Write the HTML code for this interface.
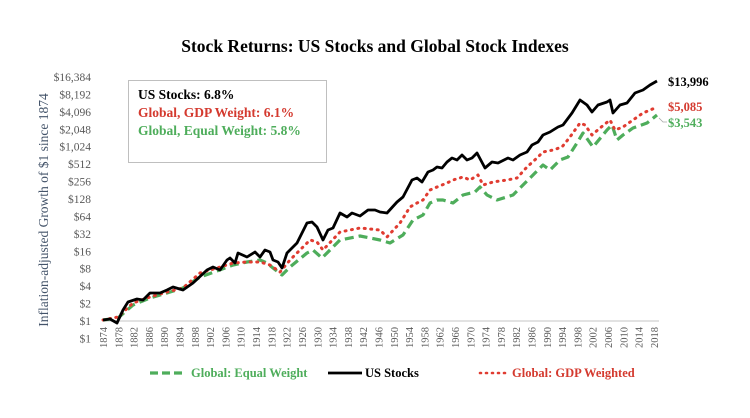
<!DOCTYPE html>
<html><head><meta charset="utf-8"><style>
body{margin:0;background:#fff}
svg{display:block}
.s{font-family:"Liberation Serif",serif}
.yl{font-size:11.5px;fill:#595959;text-anchor:end}
.xl{font-size:10.5px;fill:#595959;text-anchor:end}
</style></head><body>
<svg width="750" height="418" viewBox="0 0 750 418" xmlns="http://www.w3.org/2000/svg" class="s">
<text x="375" y="52" text-anchor="middle" font-size="17.5" font-weight="bold" fill="#000">Stock Returns: US Stocks and Global Stock Indexes</text>
<g class="yl">
<text x="91" y="81">$16,384</text><text x="91" y="98.4">$8,192</text><text x="91" y="115.9">$4,096</text><text x="91" y="133.3">$2,048</text><text x="91" y="150.7">$1,024</text><text x="91" y="168.2">$512</text><text x="91" y="185.6">$256</text><text x="91" y="203">$128</text><text x="91" y="220.4">$64</text><text x="91" y="237.9">$32</text><text x="91" y="255.3">$16</text><text x="91" y="272.7">$8</text><text x="91" y="290.2">$4</text><text x="91" y="307.6">$2</text><text x="91" y="325">$1</text><text x="91" y="342.4">$1</text>
</g>
<text transform="translate(48 210) rotate(-90)" text-anchor="middle" font-size="13.5" fill="#44546a">Inflation-adjusted Growth of $1 since 1874</text>
<line x1="103" y1="321" x2="659" y2="321" stroke="#d9d9d9" stroke-width="1.5"/>
<g class="xl">
<text transform="translate(107 327) rotate(-90)">1874</text><text transform="translate(122.3 327) rotate(-90)">1878</text><text transform="translate(137.6 327) rotate(-90)">1882</text><text transform="translate(152.9 327) rotate(-90)">1886</text><text transform="translate(168.2 327) rotate(-90)">1890</text><text transform="translate(183.5 327) rotate(-90)">1894</text><text transform="translate(198.8 327) rotate(-90)">1898</text><text transform="translate(214.1 327) rotate(-90)">1902</text><text transform="translate(229.4 327) rotate(-90)">1906</text><text transform="translate(244.7 327) rotate(-90)">1910</text><text transform="translate(260 327) rotate(-90)">1914</text><text transform="translate(275.3 327) rotate(-90)">1918</text><text transform="translate(290.6 327) rotate(-90)">1922</text><text transform="translate(306 327) rotate(-90)">1926</text><text transform="translate(321.3 327) rotate(-90)">1930</text><text transform="translate(336.6 327) rotate(-90)">1934</text><text transform="translate(351.9 327) rotate(-90)">1938</text><text transform="translate(367.2 327) rotate(-90)">1942</text><text transform="translate(382.5 327) rotate(-90)">1946</text><text transform="translate(397.8 327) rotate(-90)">1950</text><text transform="translate(413.1 327) rotate(-90)">1954</text><text transform="translate(428.4 327) rotate(-90)">1958</text><text transform="translate(443.7 327) rotate(-90)">1962</text><text transform="translate(459 327) rotate(-90)">1966</text><text transform="translate(474.3 327) rotate(-90)">1970</text><text transform="translate(489.6 327) rotate(-90)">1974</text><text transform="translate(504.9 327) rotate(-90)">1978</text><text transform="translate(520.2 327) rotate(-90)">1982</text><text transform="translate(535.5 327) rotate(-90)">1986</text><text transform="translate(550.8 327) rotate(-90)">1990</text><text transform="translate(566.1 327) rotate(-90)">1994</text><text transform="translate(581.4 327) rotate(-90)">1998</text><text transform="translate(596.7 327) rotate(-90)">2002</text><text transform="translate(612 327) rotate(-90)">2006</text><text transform="translate(627.3 327) rotate(-90)">2010</text><text transform="translate(642.6 327) rotate(-90)">2014</text><text transform="translate(657.9 327) rotate(-90)">2018</text>
</g>
<polyline fill="none" stroke="#4ead5b" stroke-width="3.2" stroke-dasharray="9 5" stroke-linejoin="round" points="103,320 118,318 133,305 150,298 167,293 183,288 200,277 217,271 233,265 247,262 260,260 267,263 273,268 282,275 290,267 307,253 313,250 322,258 340,240 360,236 380,240 390,243 403,235 413,220 423,215 430,203 437,200 443,200 453,203 463,195 475,192 480,187 487,195 497,200 513,195 523,185 535,173 543,165 550,170 560,160 568,157 577,143 583,133 593,147 607,130 612,125 617,140 623,135 633,128 647,123 657,115"/>
<polyline fill="none" stroke="#e03c31" stroke-width="3" stroke-dasharray="1 5.5" stroke-linecap="round" stroke-linejoin="round" points="103,320 118,317 133,303 150,297 167,292 183,288 200,273 217,268 233,263 247,262 260,262 270,265 280,272 290,260 310,240 317,242 323,250 340,232 360,228 380,230 387,237 400,223 410,207 417,203 423,200 430,190 437,187 447,183 453,180 463,177 470,180 478,175 483,185 493,182 507,180 517,178 527,167 537,158 543,152 553,150 562,147 570,137 580,123 585,125 592,135 600,128 610,120 615,130 623,127 633,120 643,113 655,108"/>
<polyline fill="none" stroke="#000" stroke-width="2.8" stroke-linejoin="round" points="103,320 110,319 117,323 123,310 128,302 137,299 143,300 150,293 160,293 167,290 173,287 183,290 193,283 207,270 213,267 220,270 227,260 230,258 235,263 238,253 247,257 255,252 260,257 265,250 270,252 273,260 278,262 282,268 287,253 297,243 307,223 312,222 317,227 323,240 328,230 333,228 340,213 347,217 352,213 360,216 368,210 375,210 380,212 387,213 397,202 403,197 412,180 417,178 422,182 428,172 433,170 437,167 442,168 447,162 452,158 457,160 462,155 467,160 472,158 477,153 485,168 492,162 498,163 508,158 513,160 520,155 527,152 532,145 538,142 543,135 550,132 558,127 563,125 572,113 580,100 587,105 592,112 598,105 607,102 610,100 613,113 620,105 627,103 635,93 643,90 650,85 657,81"/>
<rect x="128.5" y="80.5" width="198" height="82" fill="#fff" stroke="#bfbfbf"/>
<g font-size="13.5" font-weight="bold">
<text x="138" y="99" fill="#000">US Stocks: 6.8%</text>
<text x="138" y="117" fill="#d43a2f">Global, GDP Weight: 6.1%</text>
<text x="138" y="135" fill="#4ead5b">Global, Equal Weight: 5.8%</text>
</g>
<g font-size="12.5" font-weight="bold">
<text x="668" y="86" fill="#000">$13,996</text>
<text x="668" y="111" fill="#d43a2f">$5,085</text>
<text x="668" y="127" fill="#4ead5b">$3,543</text>
</g>
<polyline points="659,118 663,122 667,122" fill="none" stroke="#a6a6a6" stroke-width="0.8"/>
<line x1="150" y1="373" x2="186" y2="373" stroke="#4ead5b" stroke-width="3.2" stroke-dasharray="8 4"/>
<text x="191" y="377" font-size="12.5" font-weight="bold" fill="#4ead5b">Global: Equal Weight</text>
<line x1="328" y1="373" x2="362" y2="373" stroke="#000" stroke-width="2.8"/>
<text x="365" y="377" font-size="12.5" font-weight="bold" fill="#000">US Stocks</text>
<line x1="480" y1="373" x2="510" y2="373" stroke="#e03c31" stroke-width="2.6" stroke-dasharray="1 5" stroke-linecap="round"/>
<text x="512" y="377" font-size="12.5" font-weight="bold" fill="#d43a2f">Global: GDP Weighted</text>
</svg>
</body></html>
